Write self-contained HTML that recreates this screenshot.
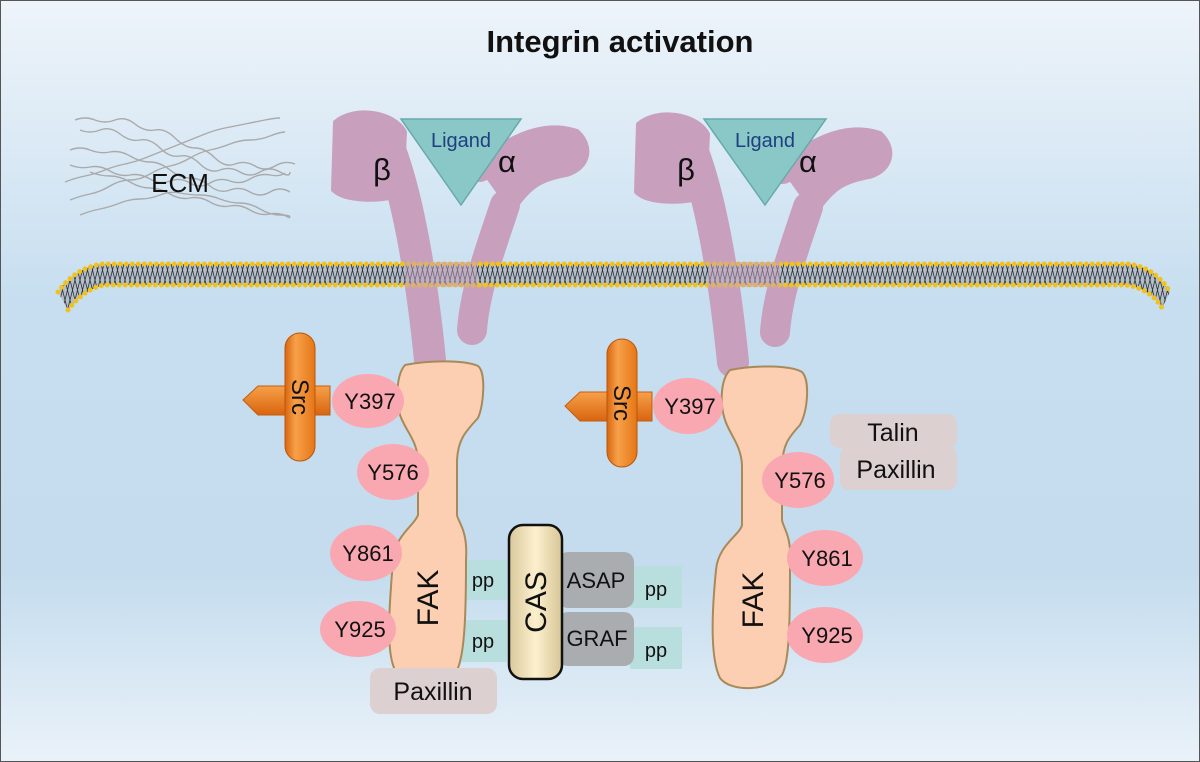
<!DOCTYPE html>
<html><head><meta charset="utf-8"><style>
html,body{margin:0;padding:0;width:1200px;height:762px;overflow:hidden;background:#fff}
svg text{font-family:"Liberation Sans",sans-serif}
</style></head><body>
<svg width="1200" height="762" viewBox="0 0 1200 762" xmlns="http://www.w3.org/2000/svg">
<defs>
<linearGradient id="bg" x1="0" y1="0" x2="0" y2="1">
<stop offset="0" stop-color="#eef4fa"/><stop offset="0.4" stop-color="#c6def0"/><stop offset="0.75" stop-color="#c4dcee"/><stop offset="1" stop-color="#eaf2f9"/>
</linearGradient>
<pattern id="hatch" width="5" height="20" patternUnits="userSpaceOnUse">
<rect width="5" height="20" fill="#b4bec8"/>
<path d="M0,0 L5,20 M5,0 L0,20" stroke="#2a2f36" stroke-width="0.8"/>
</pattern>
<linearGradient id="src" x1="0" y1="0" x2="1" y2="0">
<stop offset="0" stop-color="#d9650f"/><stop offset="0.35" stop-color="#f7a04a"/><stop offset="1" stop-color="#e57716"/>
</linearGradient>
<linearGradient id="srch" x1="0" y1="0" x2="0" y2="1">
<stop offset="0" stop-color="#f7a04a"/><stop offset="1" stop-color="#d9650f"/>
</linearGradient>
<linearGradient id="cas" x1="0" y1="0" x2="1" y2="0">
<stop offset="0" stop-color="#d8c89c"/><stop offset="0.5" stop-color="#fdf0cd"/><stop offset="1" stop-color="#d6c597"/>
</linearGradient>
</defs>
<rect x="0" y="0" width="1200" height="762" fill="url(#bg)"/>
<rect x="0.5" y="0.5" width="1199" height="761" fill="none" stroke="#555" stroke-width="1"/>
<text x="620" y="52" font-size="31" font-weight="bold" text-anchor="middle" fill="#111">Integrin activation</text>

<!-- ECM -->
<g stroke="#aaa" stroke-width="1.4" fill="none">
<path d="M75,120 q10,-4 20,0 t20,0 t20,4 t20,6 t20,8 t20,10 t20,10 t20,6 t20,2 t20,0 t20,-2"/>
<path d="M80,130 q10,4 20,0 t20,4 t20,6 t20,8 t20,8 t20,8 t20,6 t20,2 t20,0 t20,0 t10,0"/>
<path d="M70,150 q10,-4 20,0 t20,2 t20,4 t20,6 t20,8 t20,8 t20,8 t20,4 t20,2 t20,0 t20,0"/>
<path d="M65,182 q10,-4 20,-6 t20,-6 t20,-6 t20,-6 t20,-8 t20,-8 t20,-8 t20,-6 t20,-4 t20,-4 t15,-2"/>
<path d="M70,200 q10,-4 20,-6 t20,-8 t20,-6 t20,-6 t20,-8 t20,-8 t20,-8 t20,-6 t20,-4 t20,-4 t15,-4"/>
<path d="M70,165 q10,4 20,2 t20,4 t20,4 t20,4 t20,2 t20,2 t20,0 t20,-2 t20,-2 t20,-4 t15,-2"/>
<path d="M80,215 q10,-4 20,-6 t20,-6 t20,-4 t20,-4 t20,-2 t20,2 t20,4 t20,4 t20,6 t20,6 t10,2"/>
<path d="M90,172 q10,4 20,4 t20,6 t20,6 t20,6 t20,4 t20,4 t20,4 t20,4 t20,4 t20,4"/>
</g>
<text x="180" y="192" font-size="26" text-anchor="middle" fill="#111">ECM</text>

<!-- integrins -->
<g id="integ" fill="none" stroke="#c8a0bd" stroke-linecap="round">
<path d="M335,122 C355,105 395,112 405,132 L402,195 C380,202 345,202 333,190 Z" fill="#c8a0bd" stroke-width="4" stroke-linejoin="round"/>
<path d="M390,150 C405,190 420,260 430,360" stroke-width="32"/>
<path d="M505,205 C490,250 475,290 472,330" stroke-width="30"/>
<path d="M480,170 C510,150 540,130 572,140 C580,148 580,160 565,165 C540,170 525,175 505,205" stroke-width="24" fill="#c8a0bd"/>
</g>
<use href="#integ" transform="translate(303,2)"/>

<!-- membrane -->
<path d="M58,292 Q75,268 102,264 L1128,264 Q1155,267 1170,292 L1162,308 Q1150,288 1125,285 L105,285 Q85,288 68,310 Z" fill="url(#hatch)"/>
<path d="M58,292 Q75,268 102,264 L1128,264 Q1155,267 1170,292" fill="none" stroke="#f2c21a" stroke-width="5" stroke-dasharray="0 6" stroke-linecap="round"/>
<path d="M68,310 Q85,288 105,285 L1125,285 Q1150,288 1162,308" fill="none" stroke="#f2c21a" stroke-width="5" stroke-dasharray="0 6" stroke-linecap="round"/>
<g fill="#c8a0bd" opacity="0.5">
<rect x="405" y="262" width="72" height="25"/>
<rect x="708" y="262" width="72" height="25"/>
</g>

<!-- ligand -->
<polygon points="401,119 521,119 461,205" fill="#8ac8c8" stroke="#6aa" stroke-width="1.5"/>
<text x="461" y="147" font-size="20" text-anchor="middle" fill="#1e3f80">Ligand</text>
<polygon points="704,119 826,119 765,205" fill="#8ac8c8" stroke="#6aa" stroke-width="1.5"/>
<text x="765" y="147" font-size="20" text-anchor="middle" fill="#1e3f80">Ligand</text>
<g font-size="31" fill="#111">
<text x="382" y="180" text-anchor="middle">β</text>
<text x="507" y="172" text-anchor="middle">α</text>
<text x="686" y="180" text-anchor="middle">β</text>
<text x="808" y="172" text-anchor="middle">α</text>
</g>

<!-- pp and side boxes -->
<g fill="#b8dede">
<rect x="457" y="560" width="50" height="40"/><rect x="457" y="620" width="50" height="42"/>
<rect x="630" y="566" width="52" height="42"/><rect x="630" y="627" width="52" height="42"/>
</g>
<g font-size="20" fill="#111" text-anchor="middle">
<text x="483" y="587">pp</text><text x="483" y="648">pp</text>
<text x="656" y="596">pp</text><text x="656" y="657">pp</text>
</g>
<rect x="558" y="552" width="76" height="56" rx="10" fill="#a9adb0"/>
<rect x="558" y="612" width="76" height="54" rx="10" fill="#a9adb0"/>
<text x="596" y="588" font-size="22" text-anchor="middle" fill="#111">ASAP</text>
<text x="597" y="646" font-size="22" text-anchor="middle" fill="#111">GRAF</text>
<rect x="509" y="525" width="53" height="154" rx="14" fill="url(#cas)" stroke="#111" stroke-width="2.5"/>
<text transform="translate(546,602) rotate(-90)" font-size="30" text-anchor="middle" fill="#111">CAS</text>

<!-- FAK -->
<g fill="#fdcfb2" stroke="#a88a5a" stroke-width="2">
<path d="M405,365 C430,360 465,360 478,366 C486,372 484,405 478,418 C465,432 458,440 457,460 L457,515 C458,522 468,530 466,560 C466,610 465,650 458,668 C445,685 405,685 395,670 C385,650 390,600 393,560 C395,535 415,525 418,515 L418,460 C417,440 405,430 400,415 C396,400 396,375 405,365 Z"/>
<path d="M730,370 C755,365 790,365 802,372 C810,380 808,410 800,425 C788,438 783,445 782,465 L782,520 C783,528 792,535 790,565 C790,615 790,660 782,675 C768,692 730,692 720,678 C710,658 712,610 716,570 C718,545 740,535 742,525 L742,465 C741,445 730,435 725,420 C720,405 720,380 730,370 Z"/>
</g>
<text transform="translate(438,598) rotate(-90)" font-size="30" text-anchor="middle" fill="#111">FAK</text>
<text transform="translate(763,600) rotate(-90)" font-size="30" text-anchor="middle" fill="#111">FAK</text>

<!-- Src -->
<g>
<path d="M243,400 L258,386 L330,386 L330,415 L258,415 Z" fill="url(#srch)" stroke="#c55c0e" stroke-width="1"/>
<rect x="285" y="333" width="30" height="128" rx="15" fill="url(#src)" stroke="#b8560c" stroke-width="1"/>
<text transform="translate(292,397) rotate(90)" font-size="24" text-anchor="middle" fill="#111">Src</text>
</g>
<g transform="translate(322,6)">
<path d="M243,400 L258,386 L330,386 L330,415 L258,415 Z" fill="url(#srch)" stroke="#c55c0e" stroke-width="1"/>
<rect x="285" y="333" width="30" height="128" rx="15" fill="url(#src)" stroke="#b8560c" stroke-width="1"/>
<text transform="translate(292,397) rotate(90)" font-size="24" text-anchor="middle" fill="#111">Src</text>
</g>

<!-- Talin/Paxillin -->
<rect x="830" y="414" width="127" height="34" rx="9" fill="#dcd0d0"/>
<rect x="840" y="446" width="117" height="44" rx="9" fill="#dcd0d0"/>
<text x="893" y="441" font-size="25" text-anchor="middle" fill="#111">Talin</text>
<text x="896" y="478" font-size="25" text-anchor="middle" fill="#111">Paxillin</text>
<rect x="370" y="668" width="127" height="46" rx="10" fill="#dcd0d0"/>
<text x="433" y="700" font-size="25" text-anchor="middle" fill="#111">Paxillin</text>

<!-- tyrosines -->
<g fill="#f9a8b2">
<ellipse cx="368" cy="401" rx="36" ry="27"/>
<ellipse cx="393" cy="472" rx="36" ry="28"/>
<ellipse cx="366" cy="553" rx="36" ry="28"/>
<ellipse cx="358" cy="629" rx="38" ry="28"/>
<ellipse cx="688" cy="406" rx="35" ry="28"/>
<ellipse cx="798" cy="480" rx="36" ry="28"/>
<ellipse cx="825" cy="558" rx="38" ry="28"/>
<ellipse cx="825" cy="635" rx="38" ry="28"/>
</g>
<g font-size="22" fill="#111" text-anchor="middle">
<text x="370" y="409">Y397</text>
<text x="393" y="480">Y576</text>
<text x="368" y="561">Y861</text>
<text x="360" y="637">Y925</text>
<text x="690" y="414">Y397</text>
<text x="800" y="488">Y576</text>
<text x="827" y="566">Y861</text>
<text x="827" y="643">Y925</text>
</g>
</svg>
</body></html>
